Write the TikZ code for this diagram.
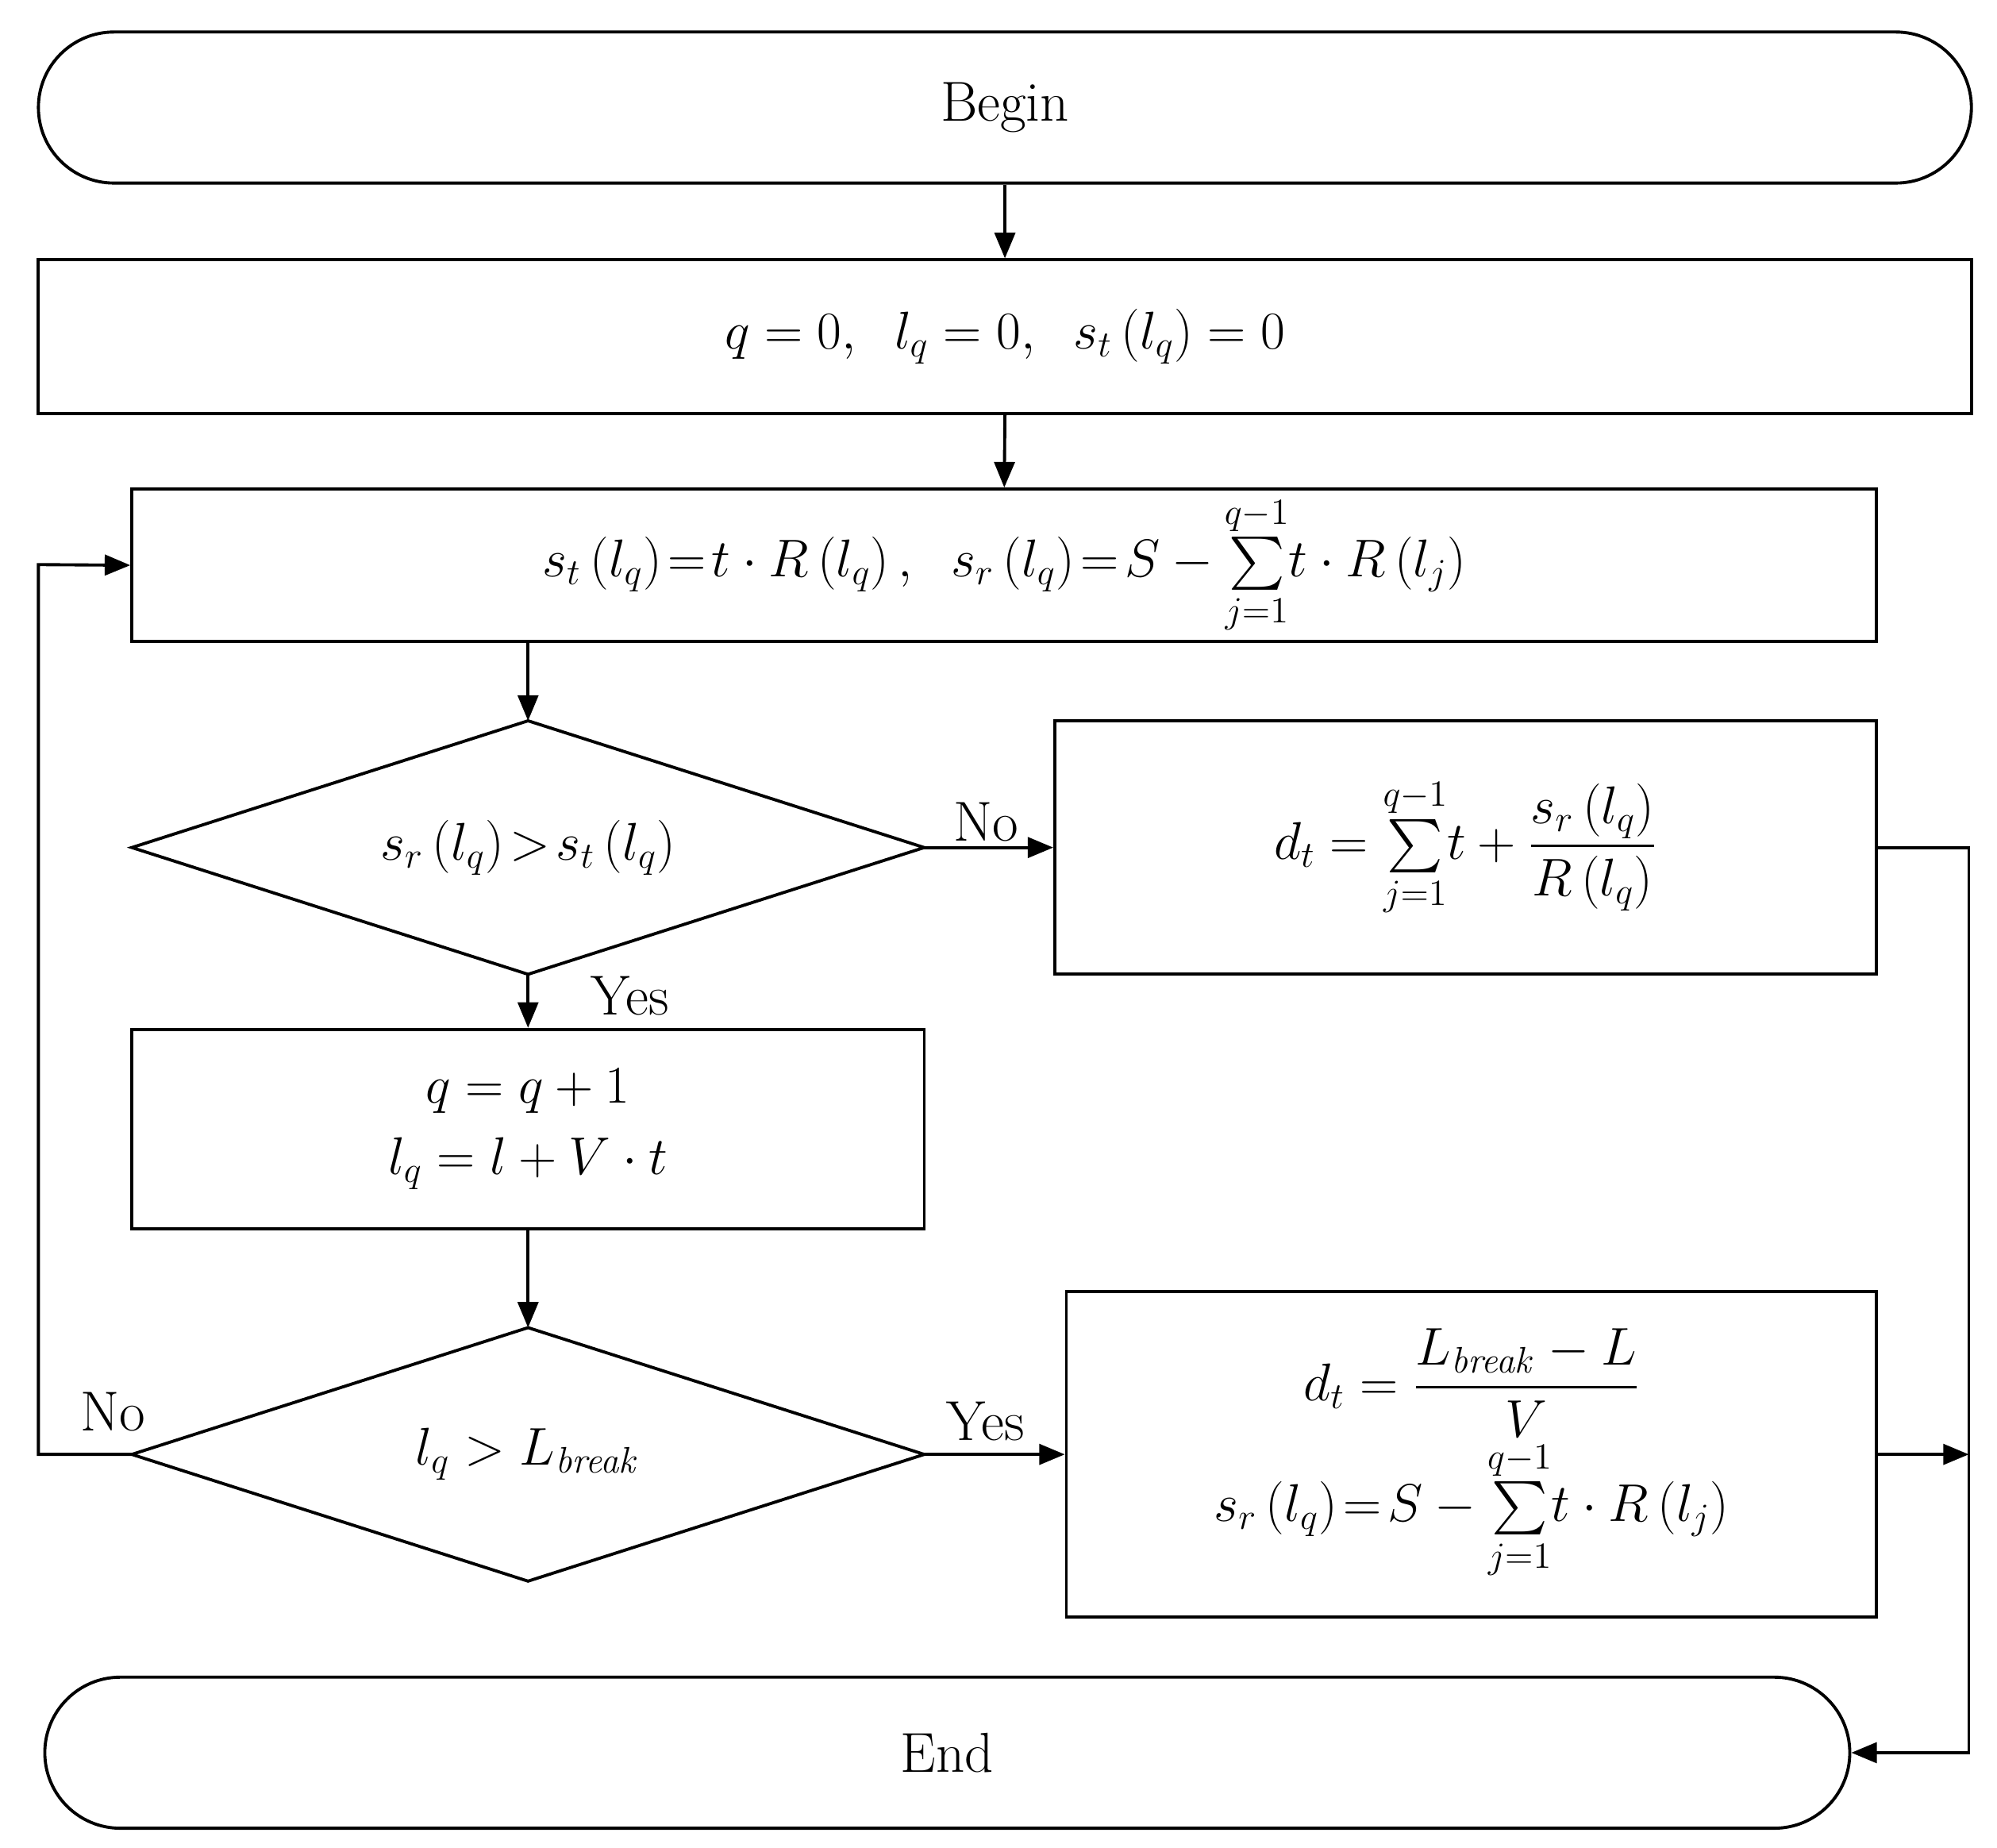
\documentclass[tikz,border=0pt]{standalone}
\usepackage{amsmath}
\usetikzlibrary{shapes.geometric,arrows.meta}
\begin{document}
\begin{tikzpicture}[x=0.5pt,y=-0.5pt,line width=1.2pt,
  every node/.style={font=\fontsize{20}{28}\selectfont},
  box/.style={draw,rectangle,inner sep=0pt},
  term/.style={draw,rectangle,rounded corners=29.5pt,inner sep=0pt,minimum height=59pt},
  arr/.style={-{Triangle[length=10pt,width=8pt]}},
  lbl/.style={font=\fontsize{22}{26}\selectfont}]
\useasboundingbox (0,0) rectangle (1560,1443);
\node[term,minimum width=755pt] (begin) at (785,84) {\fontsize{22}{26}\selectfont Begin};
\node[box,minimum width=755pt,minimum height=60pt] (init) at (785,263)
  {$q=0,\;\; l_q=0,\;\; s_t\left(l_q\right)=0$};
\node[box,minimum width=681.5pt,minimum height=59.5pt] (calc) at (784.5,441.5)
  {$s_t\left(l_q\right)\!=\!t\cdot R\left(l_q\right),\;\; s_r\left(l_q\right)\!=\!S-\sum\limits_{j=1}^{q-1}\!t\cdot R\left(l_j\right)$};
% diamond 1
\coordinate (d1n) at (412.5,563); \coordinate (d1s) at (412.5,761);
\coordinate (d1w) at (103,662); \coordinate (d1e) at (722,662);
\draw (d1n) -- (d1e) -- (d1s) -- (d1w) -- cycle;
\node (d1) at (412.5,662) {$s_r\left(l_q\right)\!>\!s_t\left(l_q\right)$};
\node[box,minimum width=321pt,minimum height=99pt] (dt) at (1145,662)
  {$d_t=\sum\limits_{j=1}^{q-1}\!t+\dfrac{s_r\left(l_q\right)}{R\left(l_q\right)}$};
\node[box,minimum width=309.5pt,minimum height=78pt,align=center] (inc) at (412.5,882)
  {$q=q+1$\\[0pt] $l_q=l+V\cdot t$};
% diamond 2
\coordinate (d2n) at (412.5,1037); \coordinate (d2s) at (412.5,1235);
\coordinate (d2w) at (103,1136); \coordinate (d2e) at (722,1136);
\draw (d2n) -- (d2e) -- (d2s) -- (d2w) -- cycle;
\node (d2) at (412.5,1136) {$l_q>L_{\mathit{break}}$};
\node[box,minimum width=316.5pt,minimum height=127pt,align=center] (dt2) at (1149.5,1136)
  {$d_t=\dfrac{L_{\mathit{break}}-L}{V}$\\[0pt] $s_r\left(l_q\right)\!=\!S-\sum\limits_{j=1}^{q-1}\!t\cdot R\left(l_j\right)$};
\node[term,minimum width=705pt] (end) at (740,1369) {\fontsize{22}{26}\selectfont End};
\node[lbl] (yes1) at (492,778) {Yes};
\node[lbl] (no1) at (770,642) {No};
\node[lbl] (yes2) at (770,1110) {Yes};
\node[lbl] (no2) at (88,1103) {No};
\coordinate (r1) at (1538,662);
\coordinate (r2) at (1538,1369);
\coordinate (rm) at (1538,1136);
\coordinate (l1) at (30,1136);
\coordinate (l2) at (30,441);
\draw[arr] (begin) -- (init);
\draw[arr] (init.south) -- (calc.north);
\draw[arr] (calc.south -| d1n) -- (d1n);
\draw[arr] (d1s) -- (inc.north);
\draw[arr] (inc) -- (d2n);
\draw[arr] (d1e) -- (dt.west);
\draw[arr] (d2e) -- (dt2.west);
\draw[arr] (dt.east) -- (r1) -- (r2) -- (end.east);
\draw[arr] (dt2.east) -- (rm);
\draw[arr] (d2w) -- (l1) -- (l2) -- (calc.west);
\end{tikzpicture}
\end{document}
